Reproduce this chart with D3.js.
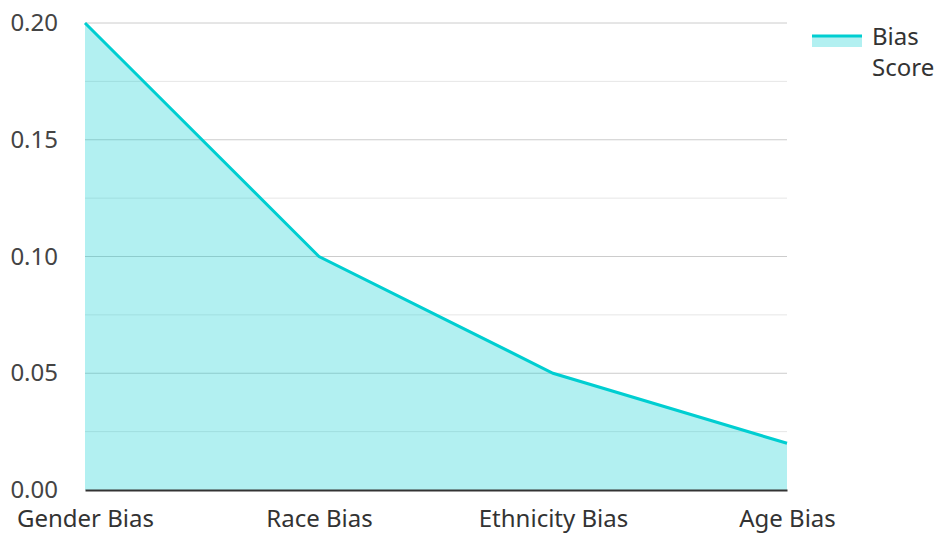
<!DOCTYPE html>
<html>
<head>
<meta charset="utf-8">
<script src="https://cdn.jsdelivr.net/npm/d3@7"></script>
<style>
  html, body { margin: 0; padding: 0; background: #fff; }
  svg { display: block; font-family: "Noto Sans", "Open Sans", sans-serif; }
</style>
</head>
<body>
<svg id="chart" width="936" height="533"></svg>
<script>
// Bias scores per category
const categories = ["Gender Bias", "Race Bias", "Ethnicity Bias", "Age Bias"];
const biasScore = [0.20, 0.10, 0.05, 0.02];
const yTicks = [0, 0.05, 0.10, 0.15, 0.20];
const yMinorTicks = [0.025, 0.075, 0.125, 0.175];
const seriesName = ["Bias", "Score"];

const color = "#00ced1";
const fontSize = 24;
const svg = d3.select("#chart");
const margin = { left: 85, right: 149, top: 23, bottom: 43 };
const W = 936, H = 533;

const x = d3.scalePoint().domain(categories).range([margin.left, W - margin.right]);
const y = d3.scaleLinear().domain([0, 0.20]).range([H - margin.bottom, margin.top]);

// Grid lines
svg.append("g").selectAll("line").data(yMinorTicks).join("line")
  .attr("x1", margin.left).attr("x2", W - margin.right)
  .attr("y1", d => y(d)).attr("y2", d => y(d))
  .attr("stroke", "#e6e6e6").attr("stroke-width", 1);
svg.append("g").selectAll("line").data(yTicks.filter(d => d > 0)).join("line")
  .attr("x1", margin.left).attr("x2", W - margin.right)
  .attr("y1", d => y(d)).attr("y2", d => y(d))
  .attr("stroke", "#cccccc").attr("stroke-width", 1);

const data = categories.map((c, i) => ({ c, v: biasScore[i] }));

// Area + line
svg.append("path").datum(data)
  .attr("fill", color).attr("fill-opacity", 0.3)
  .attr("d", d3.area().x(d => x(d.c)).y0(y(0)).y1(d => y(d.v)));
svg.append("path").datum(data)
  .attr("fill", "none").attr("stroke", color).attr("stroke-width", 3)
  .attr("d", d3.line().x(d => x(d.c)).y(d => y(d.v)));

// Y axis labels
const yAxis = svg.append("g").attr("transform", `translate(${margin.left},0)`)
  .call(d3.axisLeft(y).tickValues(yTicks).tickFormat(d3.format(".2f")).tickSize(0).tickPadding(27));
yAxis.select(".domain").remove();
yAxis.selectAll("text").attr("font-size", fontSize).attr("fill", "#444").attr("font-family", "Noto Sans");

// X axis
const xAxis = svg.append("g").attr("transform", `translate(0,${y(0)})`)
  .call(d3.axisBottom(x).tickSize(0).tickPadding(20));
xAxis.select(".domain").attr("stroke", "#333").attr("stroke-width", 2);
xAxis.selectAll("text").attr("font-size", fontSize).attr("fill", "#333").attr("font-family", "Noto Sans");

// Legend
const lg = svg.append("g").attr("transform", "translate(812,36)");
lg.append("rect").attr("x", 0).attr("y", 0).attr("width", 50).attr("height", 11)
  .attr("fill", color).attr("fill-opacity", 0.3);
lg.append("line").attr("x1", 0).attr("x2", 50).attr("y1", 0).attr("y2", 0)
  .attr("stroke", color).attr("stroke-width", 3);
lg.append("text").attr("font-size", fontSize).attr("fill", "#333")
  .selectAll("tspan").data(seriesName).join("tspan")
  .attr("x", 60).attr("y", (d, i) => 9 + i * 31)
  .text(d => d);
</script>
</body>
</html>
